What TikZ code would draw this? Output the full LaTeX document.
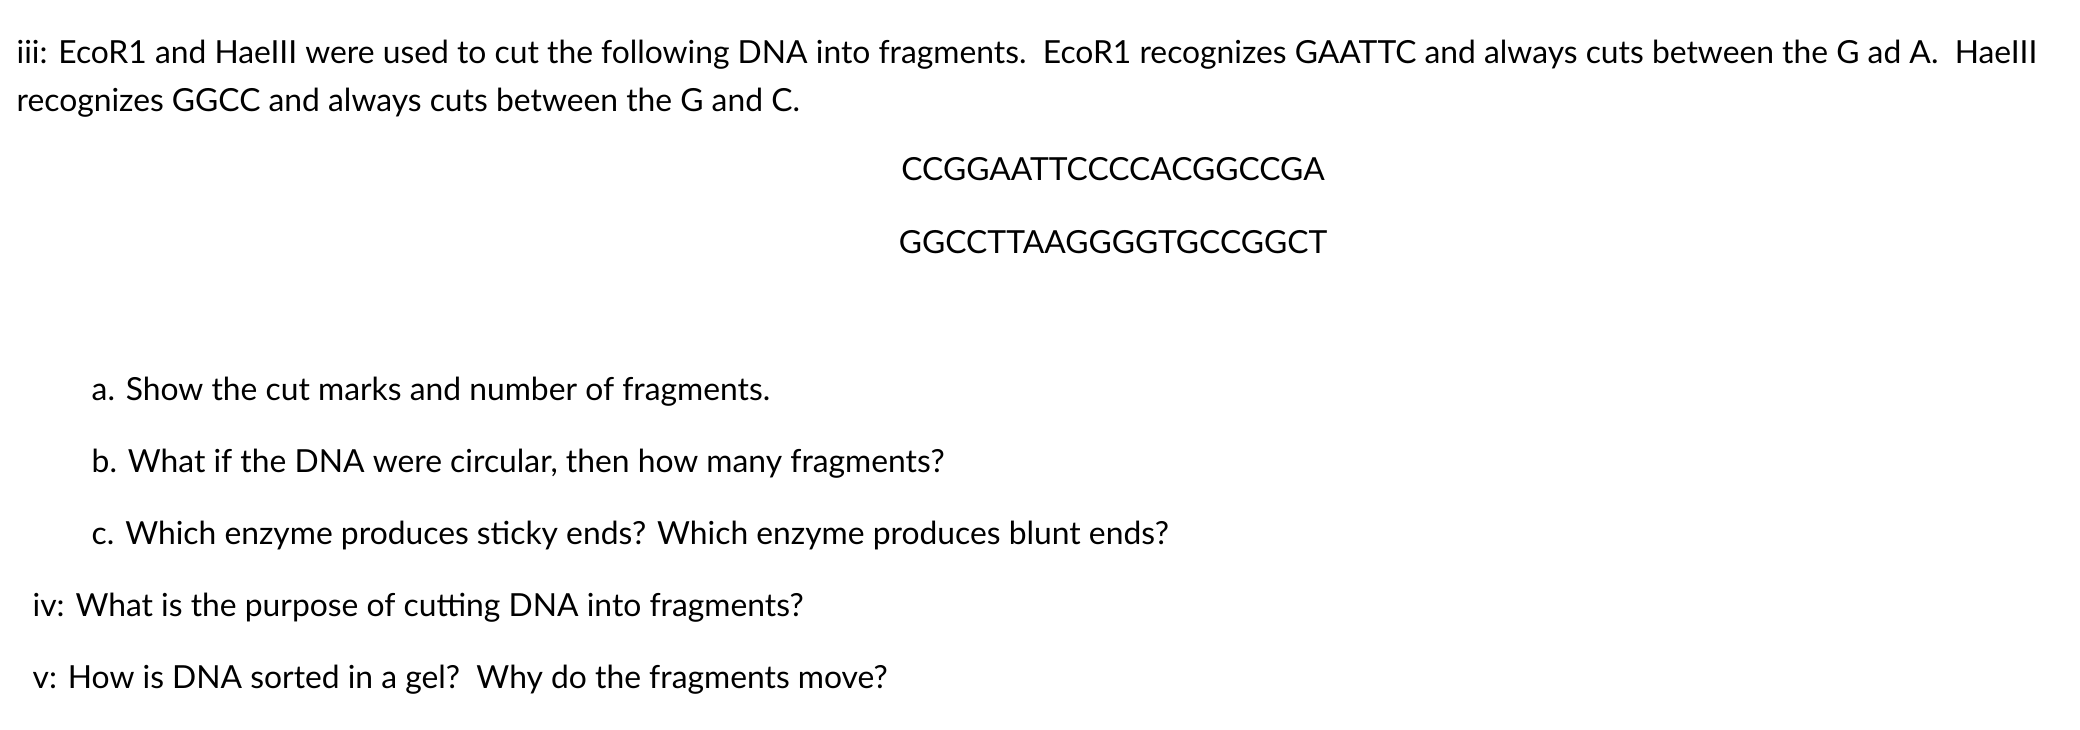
\documentclass[tikz,border=0pt]{standalone}
\usepackage{fontspec}
\setmainfont{Lato}
\begin{document}
\begin{tikzpicture}[x=0.1mm,y=-0.1mm,txt/.style={anchor=base west,inner sep=0pt,font=\fontsize{9.05pt}{11pt}\selectfont}]
\useasboundingbox (0,0) rectangle (2080,730);
\node[txt] (l1) at (16,64) {iii: EcoR1 and HaeIII were used to cut the following DNA into fragments.\ \ EcoR1 recognizes GAATTC and always cuts between the G ad A.\ \ HaeIII};
\node[txt] (l2) at (16,112) {recognizes GGCC and always cuts between the G and C.};
\node[txt,anchor=base] (s1) at (1113,181) {CCGGAATTCCCCACGGCCGA};
\node[txt,anchor=base] (s2) at (1113,253) {GGCCTTAAGGGGTGCCGGCT};
\node[txt] (a) at (91,400) {a. Show the cut marks and number of fragments.};
\node[txt] (b) at (91,472) {b. What if the DNA were circular, then how many fragments?};
\node[txt] (c) at (91,544) {c. Which enzyme produces sticky ends? Which enzyme produces blunt ends?};
\node[txt] (iv) at (32,616) {iv: What is the purpose of cutting DNA into fragments?};
\node[txt] (v) at (32,688) {v: How is DNA sorted in a gel?\ \ Why do the fragments move?};
\end{tikzpicture}
\end{document}
